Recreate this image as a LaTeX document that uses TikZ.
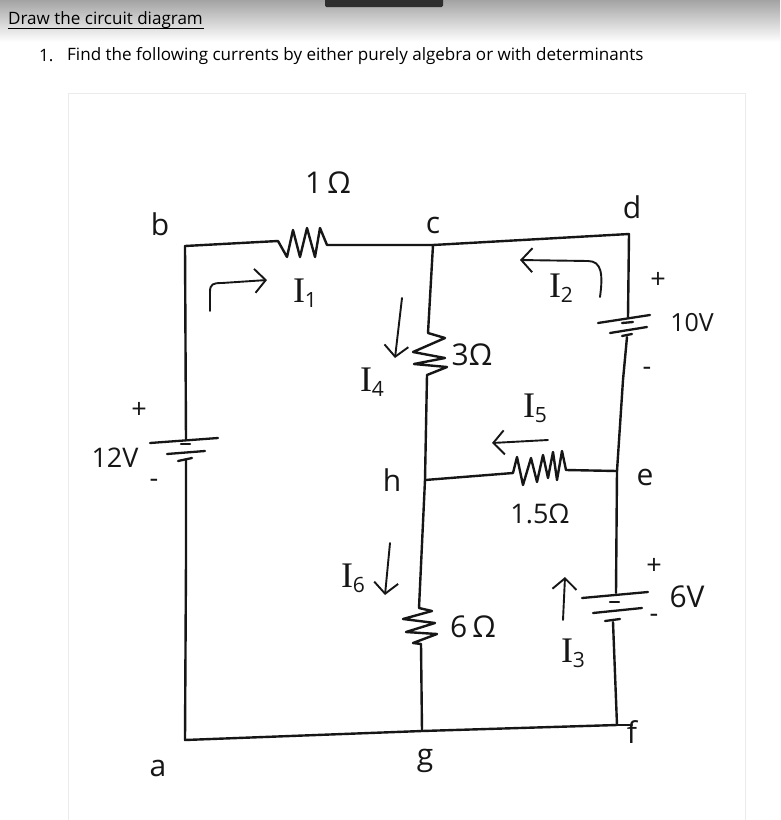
\documentclass[tikz,border=0pt]{standalone}
\usepackage{fontspec}
\usetikzlibrary{arrows.meta}
\setmainfont{Open Sans}
\newfontfamily\headfont{Open Sans}
\newfontfamily\serifhand{Liberation Serif}
\newcommand{\Icur}[1]{{\serifhand\fontsize{36}{36}\selectfont I}{\fontsize{21}{21}\selectfont\raisebox{-5pt}{#1}}}
\definecolor{ink}{HTML}{161616}
\tikzset{
  wire/.style={draw=ink,line width=2.4pt,line join=round,line cap=round},
  plate/.style={draw=ink,line width=2.3pt,line cap=round},
  curr/.style={draw=ink,line width=1.9pt,line cap=round,-{Straight Barb[length=11pt,width=24pt,line width=1.9pt]}},
  hand/.style={text=ink,inner sep=0pt,font=\fontsize{30}{30}\selectfont},
  handvolt/.style={text=ink,inner sep=0pt,font=\fontsize{25}{25}\selectfont},
  handsign/.style={text=ink,inner sep=0pt,font=\fontsize{27}{27}\selectfont},
  headtext/.style={text=black,inner sep=0pt,anchor=west,font=\headfont\fontsize{17.05}{20}\selectfont}
}
\begin{document}
\begin{tikzpicture}[x=1pt,y=-1pt]
\useasboundingbox (0,0) rectangle (780,820);
\fill[white] (0,0) rectangle (780,820);
\shade[top color=black!36,bottom color=white] (0,0) rectangle (780,42);
\fill[black!82,rounded corners=1.5pt] (325,-4) rectangle (443,7);
\draw[black!8,line width=1pt] (68,820) -- (68,93) -- (745,93) -- (745,820);
\node[headtext] (title) at (8,20) {Draw the circuit diagram};
\draw[black,line width=0.8pt] (8,28) -- (204,28);
\node[headtext] (num) at (39,56) {1.};
\node[headtext] (task) at (67,56) {Find the following currents by either purely algebra or with determinants};

% junctions
\coordinate (Jb) at (185,246);
\coordinate (Jc) at (433,245);
\coordinate (Jd) at (629,234);
\coordinate (Je) at (617,471);
\coordinate (Jf) at (617,725);
\coordinate (Jg) at (422,731);
\coordinate (Jh) at (425,480);
\coordinate (Ja) at (185,740);

% 1 ohm
\coordinate (R1a) at (278,241);
\coordinate (R1b) at (327,245);
\draw[wire] (Jb) -- (R1a) -- (287,257) -- (293,230) -- (300,257) -- (307,228) -- (315,257) -- (320,228) -- (R1b) -- (Jc);
% top right
\draw[wire] (Jc) -- (Jd);
% 3 ohm
\coordinate (R3a) at (428,333);
\coordinate (R3b) at (427,375);
\draw[wire] (Jc) -- (R3a) -- (445,338) -- (413,352) -- (445,358) -- (414,364) -- (447,367) -- (R3b) -- (Jh);
% 6 ohm
\coordinate (R6a) at (419,608);
\coordinate (R6b) at (421,644);
\draw[wire] (Jh) -- (R6a) -- (432,611) -- (403,619) -- (435,623) -- (406,632) -- (437,634) -- (413,643) -- (R6b) -- (Jg);
% 1.5 ohm
\coordinate (R5a) at (513,473);
\coordinate (R5b) at (566,470);
\draw[wire] (Jh) -- (R5a) -- (517,457) -- (523,485) -- (531,458) -- (537,482) -- (543,455) -- (548,478) -- (553,452) -- (557,480) -- (562,451) -- (R5b) -- (Je);
% 12 V battery
\coordinate (B12a) at (186,440);
\coordinate (B12b) at (186,460);
\draw[wire] (Jb) -- (B12a);
\draw[plate] (150,443) -- (218,438);
\draw[plate] (181,444) -- (190,444);
\draw[plate] (167,454) -- (205,451);
\draw[plate] (178,461) -- (192,458);
\draw[wire] (B12b) -- (186,560) -- (Ja) -- (Jg) -- (Jf);
% 10 V battery
\coordinate (B10a) at (628,317);
\coordinate (B10b) at (627,337);
\draw[wire] (Jd) -- (B10a);
\draw[plate] (598,323) -- (650,315);
\draw[plate] (622,323) -- (633,322);
\draw[plate] (610,333) -- (647,327);
\draw[plate] (622,336) -- (632,334);
\draw[wire] (B10b) -- (623,380) -- (Je);
% 6 V battery
\coordinate (B6a) at (616,593);
\coordinate (B6b) at (613,622);
\draw[wire] (Je) -- (B6a);
\draw[plate] (582,598) -- (648,592);
\draw[plate] (610,602) -- (619,602);
\draw[plate] (593,613) -- (642,608);
\draw[plate] (605,621) -- (620,619);
\draw[wire] (B6b) -- (Jf);
\draw[wire] (Jf) -- (632,725);

% current arrows
\coordinate (A1a) at (210,311);
\coordinate (A1b) at (267,280);
\draw[curr] (A1a) -- (210,292) .. controls (210,284) and (213,283) .. (222,283) -- (A1b);
\coordinate (A2a) at (600,297);
\coordinate (A2b) at (520,260);
\draw[curr] (A2a) .. controls (603,275) and (602,261) .. (588,261) -- (A2b);
\coordinate (A3a) at (563,620);
\coordinate (A3b) at (565,577);
\draw[curr] (A3a) -- (A3b);
\coordinate (A4a) at (402,298);
\coordinate (A4b) at (395,358);
\draw[curr] (A4a) -- (A4b);
\coordinate (A5a) at (548,440);
\coordinate (A5b) at (492,443);
\draw[curr] (A5a) -- (A5b);
\coordinate (A6a) at (390,543);
\coordinate (A6b) at (385,595);
\draw[curr] (A6a) -- (A6b);

% labels
\node[hand] (Lb) at (160,224) {b};
\node[hand] (Lc) at (433,225) {c};
\node[hand] (Ld) at (632,207) {d};
\node[hand] (Le) at (645,477) {e};
\node[hand] (Lf) at (632,732) {f};
\node[hand] (Lg) at (425,761) {g};
\node[hand] (Lh) at (392,480) {h};
\node[hand] (La) at (158,768) {a};
\node[hand] (L1) at (328,183) {1\,Ω};
\node[hand] (L3) at (472,355) {3Ω};
\node[hand] (L6) at (473,627) {6\,Ω};
\node[handsign] (L15) at (540,514) {1.5Ω};
\node[handsign] (L12) at (115,458) {12V};
\node[handvolt] (L10) at (692,323) {10V};
\node[hand] (LV6) at (687,597) {6V};
\node[handsign] (P12) at (139,410) {+};
\node[handsign] (M12) at (154,483) {-};
\node[handsign] (P10) at (658,280) {+};
\node[handsign] (M10) at (647,371) {-};
\node[handsign] (P6) at (654,566) {+};
\node[handsign] (M6) at (654,618) {-};
\node[text=ink,inner sep=0pt] (I1) at (305,293) {\Icur{1}};
\node[text=ink,inner sep=0pt] (I2) at (561,288) {\Icur{2}};
\node[text=ink,inner sep=0pt] (I3) at (573,653) {\Icur{3}};
\node[text=ink,inner sep=0pt] (I4) at (372,382) {\Icur{4}};
\node[text=ink,inner sep=0pt] (I5) at (535,408) {\Icur{5}};
\node[text=ink,inner sep=0pt] (I6) at (353,578) {\Icur{6}};
\end{tikzpicture}
\end{document}
